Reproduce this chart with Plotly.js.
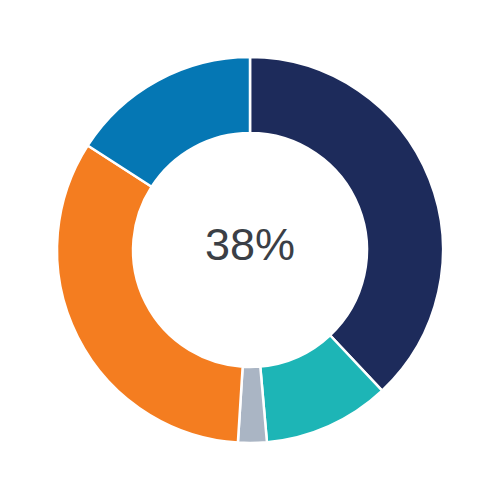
<!DOCTYPE html>
<html>
<head>
<meta charset="utf-8">
<script src="https://cdn.plot.ly/plotly-3.0.1.min.js"></script>
<style>
  html, body { margin: 0; padding: 0; background: #fff; }
  #chart { width: 500px; height: 500px; }
</style>
</head>
<body>
<div id="chart"></div>
<script>
const labels = ["Navy", "Teal", "Gray", "Orange", "Blue"];
const values = [38, 10.6, 2.4, 33.1, 15.9];
const colors = ["#1d2b5b", "#1db5b6", "#aab5c4", "#f47d20", "#0577b4"];
const centerText = "38%";

const data = [
  {
    type: "pie",
    labels: labels,
    values: values,
    hole: 0.606,
    sort: false,
    direction: "clockwise",
    rotation: 0,
    textinfo: "none",
    hoverinfo: "label+percent",
    marker: {
      colors: colors,
      line: { color: "#ffffff", width: 2.5 },
    },
  },
];

const layout = {
  width: 500,
  height: 500,
  margin: { l: 57, r: 57, t: 57, b: 57 },
  showlegend: false,
  paper_bgcolor: "#ffffff",
  annotations: [
    {
      text: centerText,
      x: 0.5,
      y: 0.513,
      xref: "paper",
      yref: "paper",
      showarrow: false,
      font: { family: "Liberation Sans, Arial, sans-serif", size: 45, color: "#3b3f46" },
    },
  ],
};

Plotly.newPlot("chart", data, layout, { displayModeBar: false });
</script>
</body>
</html>
